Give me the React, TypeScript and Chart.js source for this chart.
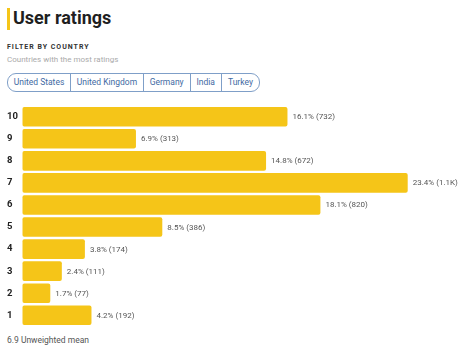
import React, { useEffect, useRef } from "react";
import { Chart, registerables } from "chart.js";

Chart.register(...registerables);

const categories = ["10", "9", "8", "7", "6", "5", "4", "3", "2", "1"];
const percents = [16.1, 6.9, 14.8, 23.4, 18.1, 8.5, 3.8, 2.4, 1.7, 4.2];
const counts = ["732", "313", "672", "1.1K", "820", "386", "174", "111", "77", "192"];
const countries = ["United States", "United Kingdom", "Germany", "India", "Turkey"];
const pillWidths = [62.6, 72.4, 47, 31, 38.6];
const meanText = "6.9 Unweighted mean";

const FONT = "Roboto, 'Noto Sans', sans-serif";
const YELLOW = "#F5C518";

const valueLabels = {
  id: "valueLabels",
  afterDatasetsDraw(chart: any) {
    const ctx = chart.ctx;
    const meta = chart.getDatasetMeta(0);
    ctx.save();
    ctx.font = `8px ${FONT}`;
    ctx.fillStyle = "#555";
    ctx.textAlign = "left";
    ctx.textBaseline = "middle";
    meta.data.forEach((bar: any, i: number) => {
      ctx.fillText(`${percents[i]}% (${counts[i]})`, bar.x + 5, bar.y + 0.5);
    });
    ctx.restore();
  },
};

export default function App() {
  const ref = useRef<HTMLCanvasElement>(null);
  useEffect(() => {
    if (!ref.current) return;
    const chart = new Chart(ref.current, {
      type: "bar",
      data: {
        labels: categories,
        datasets: [
          {
            data: percents,
            backgroundColor: YELLOW,
            borderRadius: 2,
            borderSkipped: false,
            categoryPercentage: 1,
            barPercentage: 0.89,
          },
        ],
      },
      options: {
        indexAxis: "y",
        animation: false,
        responsive: false,
        maintainAspectRatio: false,
        layout: { padding: { left: 7, right: 7, top: 3.75, bottom: 3 } },
        plugins: { legend: { display: false }, tooltip: { enabled: false } },
        scales: {
          x: { display: false, min: 0, max: 27 },
          y: {
            grid: { display: false, drawTicks: false },
            border: { display: false },
            afterFit: (s: any) => {
              s.width = 15.3;
            },
            ticks: {
              crossAlign: "far",
              padding: 0,
              color: "#222",
              font: { family: FONT, size: 9.5, weight: "bold" },
            },
          },
        },
      },
      plugins: [valueLabels],
    });
    return () => chart.destroy();
  }, []);

  return (
    <div style={{ position: "absolute", left: 0, top: 0, width: 474, height: 353, background: "#fff", fontFamily: FONT }}>
      <div style={{ position: "absolute", left: 7, top: 8, width: 2.5, height: 22, background: YELLOW }} />
      <div style={{ position: "absolute", left: 13, top: 5, fontSize: 18, fontWeight: 700, color: "#1f1f1f", lineHeight: "26px" }}>
        User ratings
      </div>
      <div style={{ position: "absolute", left: 7, top: 42, fontSize: 7, fontWeight: 700, letterSpacing: 1.0, color: "#333", lineHeight: "11px" }}>
        FILTER BY COUNTRY
      </div>
      <div style={{ position: "absolute", left: 7, top: 54, fontSize: 8, color: "#aaa", lineHeight: "11px" }}>
        Countries with the most ratings
      </div>
      <div
        style={{
          position: "absolute",
          left: 6.7,
          top: 73.3,
          height: 17,
          display: "flex",
          border: "1px solid #7f9fc8",
          borderRadius: 9,
          overflow: "hidden",
        }}
      >
        {countries.map((c, i) => (
          <div
            key={c}
            style={{
              width: pillWidths[i],
              boxSizing: "border-box",
              borderLeft: i === 0 ? "none" : "1px solid #7f9fc8",
              fontSize: 8.5,
              color: "#3f6aa3",
              textAlign: "center",
              lineHeight: "17px",
            }}
          >
            {c}
          </div>
        ))}
      </div>
      <canvas ref={ref} width={474} height={232} style={{ position: "absolute", left: 0, top: 100, width: 474, height: 232 }} />
      <div style={{ position: "absolute", left: 7, top: 334, fontSize: 8.5, color: "#555", lineHeight: "12px" }}>{meanText}</div>
    </div>
  );
}
